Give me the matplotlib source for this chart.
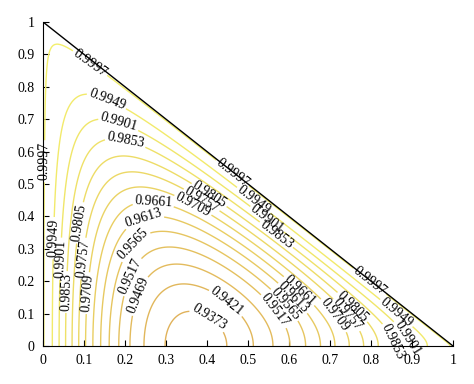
import numpy as np
import matplotlib
matplotlib.use("Agg")
import matplotlib.pyplot as plt
import matplotlib.tri as mtri
from matplotlib.colors import LinearSegmentedColormap
from matplotlib.ticker import FormatStrFormatter

plt.rcParams['font.family'] = ['Liberation Serif', 'DejaVu Serif']

# contour levels shown on the chart
levels = [0.9373, 0.9421, 0.9469, 0.9517, 0.9565, 0.9613, 0.9661,
          0.9709, 0.9757, 0.9805, 0.9853, 0.9901, 0.9949, 0.9997]

# surface: 1 - f = amp * x^pa * w^pb * exp(-pc*x)
# (minimum ~0.935 near x=0.37 on y=0, f -> 1 on x=0 and on x+y=1)
amp = 0.743
pa = 1.3
pb = 1.25
pc = 1.53

# where each level's labels sit (data coords, nearest point on that contour)
label_pos = {
    0.9997: [(0.117, 0.877), (0.002, 0.57), (0.468, 0.543), (0.797, 0.2)],
    0.9949: [(0.156, 0.76), (0.022, 0.333), (0.522, 0.463), (0.87, 0.114)],
    0.9901: [(0.185, 0.69), (0.032, 0.27), (0.556, 0.407), (0.937, 0.06)],
    0.9853: [(0.2, 0.627), (0.044, 0.167), (0.578, 0.358), (0.93, 0.03)],
    0.9805: [(0.09, 0.38), (0.41, 0.475), (0.76, 0.127)],
    0.9757: [(0.098, 0.27), (0.39, 0.457), (0.749, 0.105)],
    0.9709: [(0.10, 0.164), (0.368, 0.44), (0.717, 0.102)],
    0.9661: [(0.268, 0.43), (0.627, 0.173)],
    0.9613: [(0.249, 0.377), (0.612, 0.151)],
    0.9565: [(0.232, 0.30), (0.595, 0.133)],
    0.9517: [(0.217, 0.213), (0.576, 0.12)],
    0.9469: [(0.229, 0.157)],
    0.9421: [(0.461, 0.157)],
    0.9373: [(0.415, 0.108)],
}

# triangular grid over x>=0, y>=0, x+y<=1
n = 240
ii, jj = np.meshgrid(np.arange(n + 1), np.arange(n + 1))
keep = ii + jj <= n
x = ii[keep] / n
y = jj[keep] / n
w = (1 - x - y) * (1 - x + y) / np.maximum(1 - x, 1e-9)
w = np.clip(w, 0, None)
f = 1 - amp * x**pa * w**pb * np.exp(-pc * x)
tri = mtri.Triangulation(x, y)

fig = plt.figure(figsize=(4.74, 3.84), dpi=100)
ax = fig.add_axes([0.0907, 0.099, 0.865, 0.8438])

cmap = LinearSegmentedColormap.from_list('oy', ['#e0b25a', '#f3ef6c'])
lo, hi = min(levels), max(levels)

# one contour set per level so each label lands on its own line
for lev in levels:
    col = cmap((lev - lo) / (hi - lo))
    cs = ax.tricontour(tri, f, levels=[lev], colors=[col], linewidths=1.0)
    labels = ax.clabel(cs, manual=label_pos[lev], fmt='%.4f',
                       fontsize=10, colors='k', inline=True, inline_spacing=2)
    for t in cs.labelTexts:
        t.set_clip_on(False)

# hypotenuse
ax.plot([0, 1], [1, 0], color='k', lw=1.0)

ax.set_xlim(0, 1)
ax.set_ylim(0, 1)
ax.spines['top'].set_visible(False)
ax.spines['right'].set_visible(False)
ax.set_xticks(np.arange(0, 1.01, 0.1))
ax.set_yticks(np.arange(0, 1.01, 0.1))
ax.xaxis.set_major_formatter(FormatStrFormatter('%g'))
ax.yaxis.set_major_formatter(FormatStrFormatter('%g'))
ax.tick_params(direction='in', length=4, labelsize=10, pad=6)

fig.savefig('out.png', dpi=100)
